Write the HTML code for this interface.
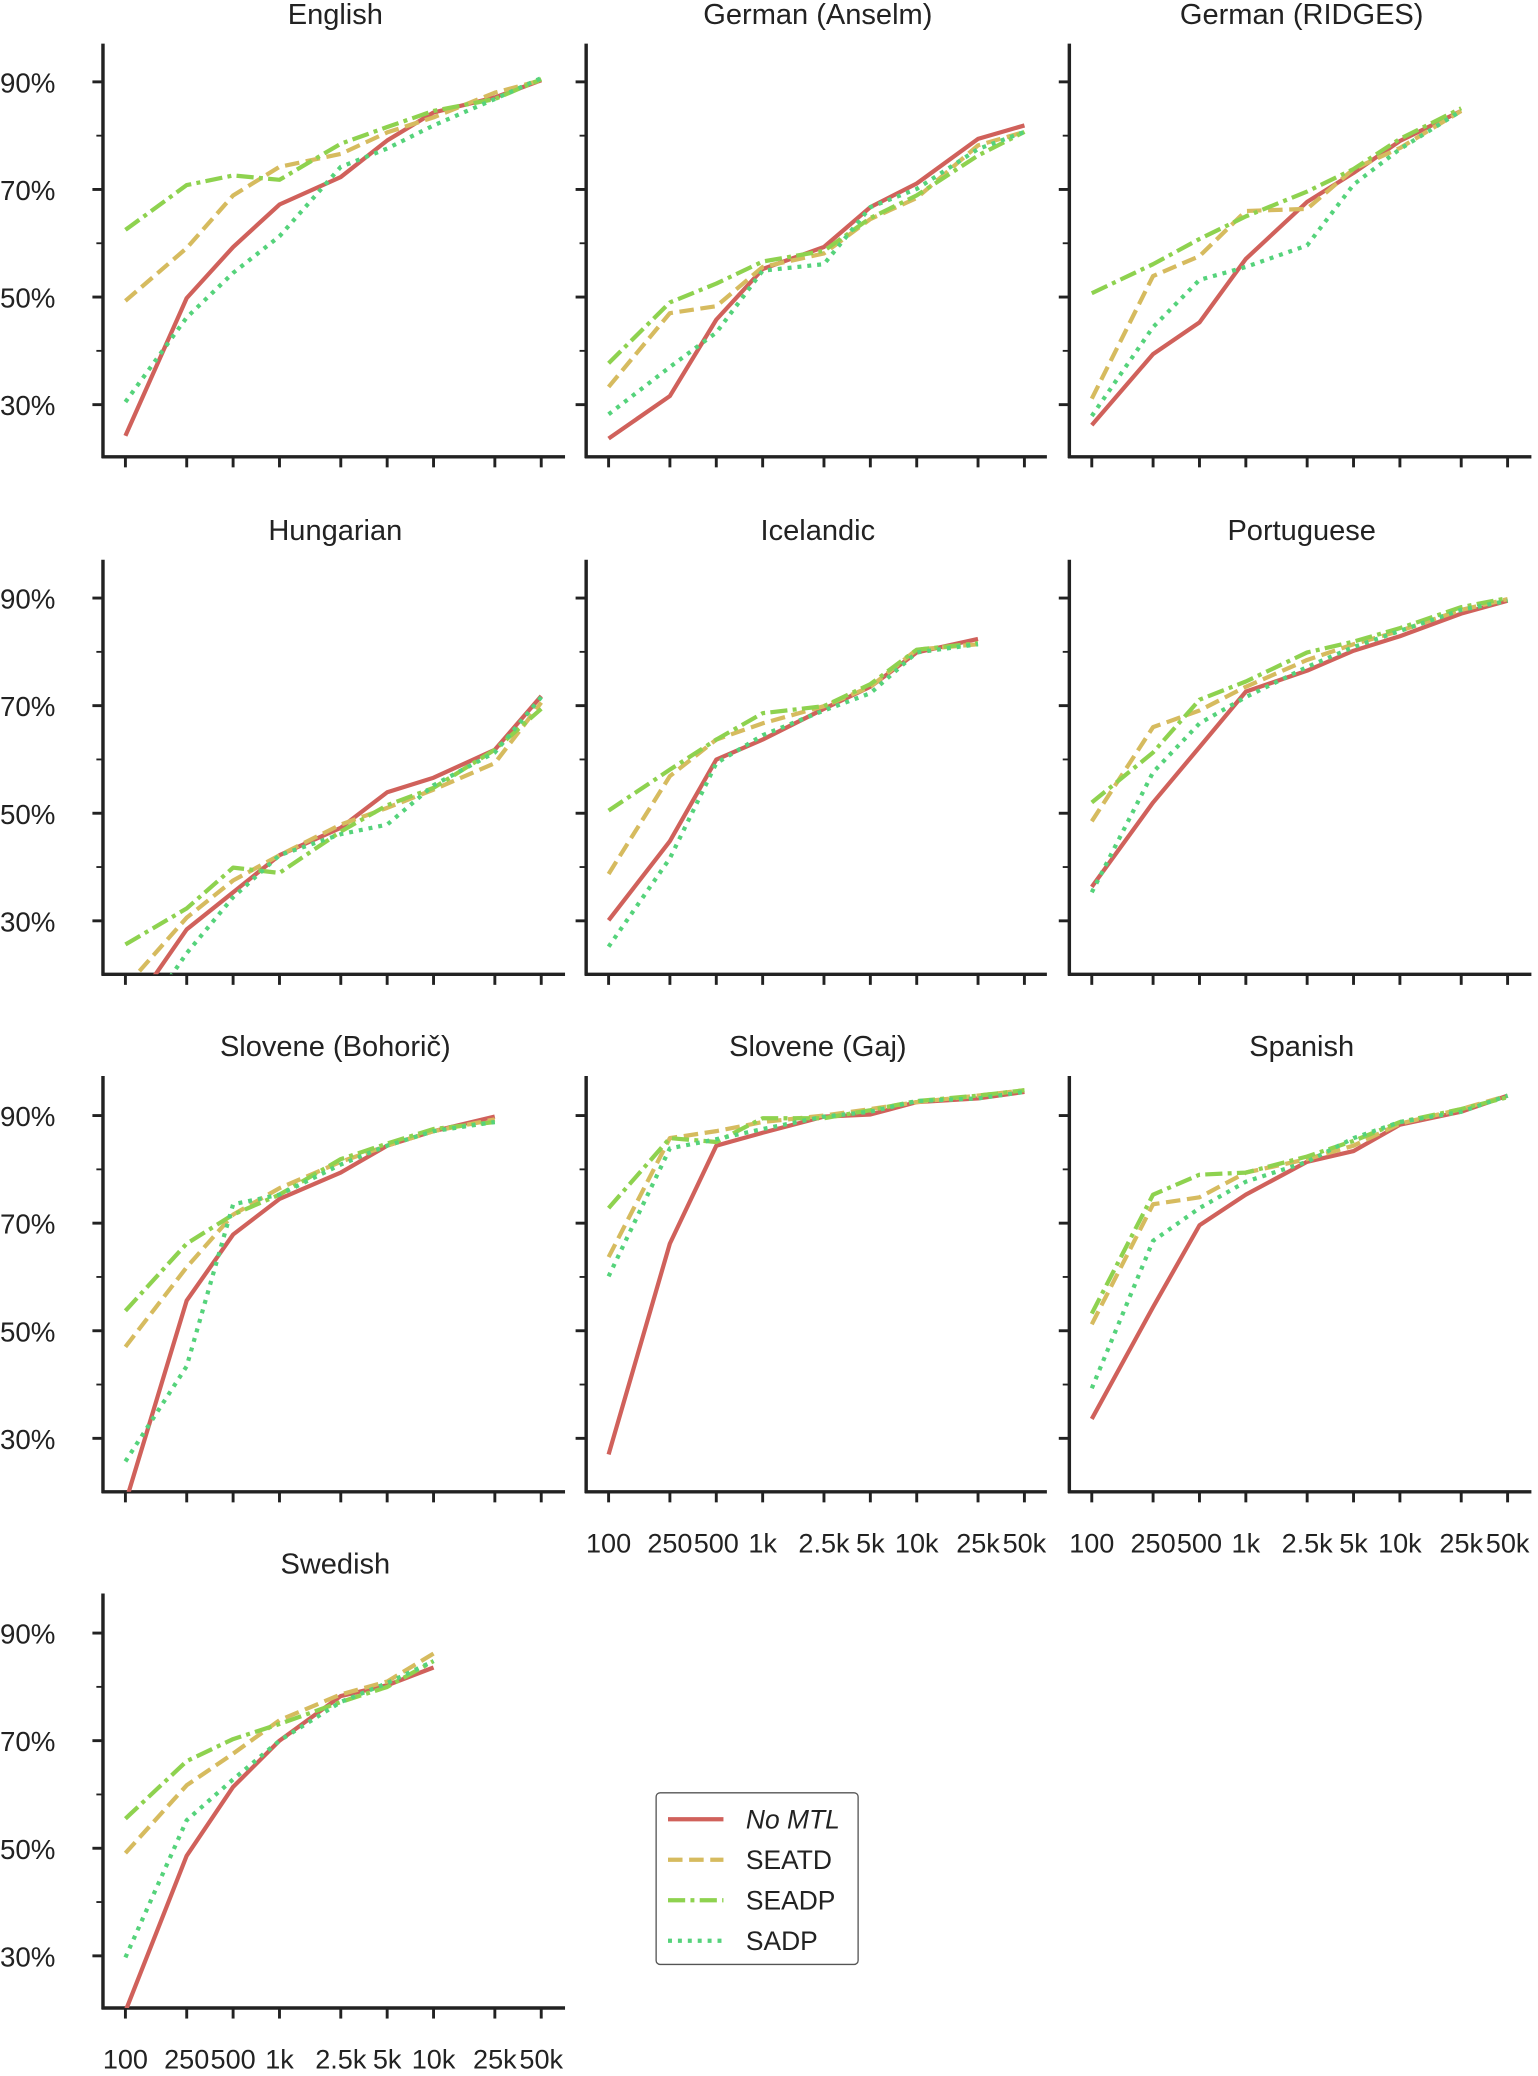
<!DOCTYPE html>
<html><head><meta charset="utf-8"><style>
html,body{margin:0;padding:0;background:#fff;}
svg{display:block;font-family:"Liberation Sans",sans-serif;}
</style></head><body>
<svg id="chart" width="1538" height="2076" viewBox="0 0 1165 1572.5" xmlns="http://www.w3.org/2000/svg"></svg>
<script>
const xCats = [100,250,500,1000,2500,5000,10000,25000,50000];
const xLabels = ["100","250","500","1k","2.5k","5k","10k","25k","50k"];
const yTicks = [30,50,70,90];
const yMinor = [40,60,80];
const seriesNames = ["No MTL","SEATD","SEADP","SADP"];
const panelTitles = ["English","German (Anselm)","German (RIDGES)","Hungarian","Icelandic","Portuguese","Slovene (Bohorič)","Slovene (Gaj)","Spanish","Swedish"];
const noMTL = [
 [24.2,49.8,59.3,67.2,72.3,79.1,84.3,87.1,90.3],
 [23.7,31.6,45.8,55.2,59.3,66.7,71.1,79.4,81.9],
 [26.2,39.4,45.3,57.1,67.7,73.1,79,84.6],
 [12,28.4,35.3,42.2,47.3,53.9,56.6,61.8,71.8],
 [30.1,44.8,60,63.7,69.4,73.5,79.9,82.4],
 [36.3,52,62.3,72.6,76.5,80.2,82.9,87.1,89.5],
 [18,55.6,67.9,74.5,79.4,84.4,87.1,89.8],
 [27,66.2,84.4,86.8,89.8,90.2,92.5,93.2,94.4],
 [33.6,54.4,69.6,75.3,81.4,83.4,88.3,90.7,93.7],
 [19.7,48.6,61.4,70,78.3,80.3,83.6]
];
const seatd = [
 [49.3,59.1,68.9,74.2,76.6,80.6,83.4,88,90.3],
 [33.3,47,48.3,55.6,58.1,64.5,68.4,78.2,80.7],
 [31.1,53.9,57.6,66,66.4,73.8,77.7,84.6],
 [17.7,30.6,37.5,42.2,47.9,51,54.4,59.3,70.6],
 [38.7,56.9,63.7,66.7,69.9,73.5,80.4,81.4],
 [48.5,66,69.1,73.5,78.5,81.4,83.9,87.8,89.8],
 [47,61.8,71.6,76.5,81.4,84.4,87.1,89.3],
 [63.7,85.8,87.1,88.8,90,91.2,92.5,93.7,94.7],
 [51.2,73.5,74.8,79.4,81.9,84.4,88.5,91.2,93.7],
 [49.1,61.7,67.6,73.8,78.6,81,86.2]
];
const seadp = [
 [62.5,70.8,72.6,71.8,78.5,81.6,84.6,86.8,90.5],
 [37.7,49,52.5,56.6,58.6,64.7,68.9,76.3,80.7],
 [50.7,56.1,60.8,65,69.6,73.8,79.4,85.1],
 [25.6,32.3,39.9,38.9,46.6,51.5,54.7,61.8,69.4],
 [50.5,58.1,63.7,68.6,69.9,74,80.4,81.6],
 [52,61.3,71.1,74.5,79.9,81.9,84.4,88.3,90],
 [53.7,66.2,71.6,75.3,81.9,84.8,87.5,88.8],
 [72.8,85.8,85.1,89.5,89.5,91,92.7,93.7,94.7],
 [53.2,75.3,79,79.4,82.4,85.3,88.8,91.2,93.4],
 [55.5,66.2,70.3,73.1,77.2,80,84.8]
];
const sadp = [
 [30.5,46.2,54.5,61.3,74.2,77.6,81.9,86.8,90.7],
 [28.2,37,43.4,54.9,56.1,66.7,70.1,77.5,80.7],
 [27.9,44.4,53.2,55.6,59.6,70.9,77.5,84.6],
 [7.4,24,34.4,42.2,46.1,47.9,55.2,61.3,71.6],
 [25.2,41.6,59.3,64.5,69.1,72.3,79.9,81.4],
 [35.3,57.6,66.7,71.6,77.2,80.9,83.9,87.8,89.5],
 [25.7,43.4,73.5,75.3,80.9,84.4,87.1,88.8],
 [60.1,83.9,85.6,87.5,89.8,90.7,92.7,93.2,94.4],
 [39.3,66.7,72.8,77.7,81.4,85.8,88.8,90.7,93.7],
 [29.7,55.2,62.8,70,77.2,80.7,84.8]
];
const allSeries = [noMTL, seatd, seadp, sadp];
const colors = ["#d0615b","#d6bb5f","#8ed24f","#55d37b"];
const dashes = [null,"11 5","13 4 3 4","3 4.5"];
const showXLabels = [false,false,false,false,false,false,false,true,true,true];

const NS = "http://www.w3.org/2000/svg";
const svg = document.getElementById("chart");
const colAxis = [78,444,810];
const colRight = [428,793,1160];
const rowTop = [33,424,815,1207];
const rowBottom = [346,738,1130,1521];
const rowY90 = [62,453,845,1237];
const PX_PER_PCT = 4.075;
const PX_PER_DEC = 116.7;
function mk(tag, attrs, parent){const e=document.createElementNS(NS,tag);for(const k in attrs)e.setAttribute(k,attrs[k]);(parent||svg).appendChild(e);return e;}
function xScale(c, v){return colAxis[c]+17+(Math.log10(v)-2)*PX_PER_DEC;}
function yScale(r, v){return rowY90[r]+(90-v)*PX_PER_PCT;}

const defs = mk("defs",{});
panelTitles.forEach((title,i)=>{
  const r=Math.floor(i/3), c=i%3;
  const g = mk("g",{});
  
  
  const cp = mk("clipPath",{id:"clip"+i},defs);
  mk("rect",{x:colAxis[c],y:rowTop[r]-5,width:colRight[c]-colAxis[c],height:rowBottom[r]-rowTop[r]+5},cp);
  const t = mk("text",{x:(colAxis[c]+colRight[c])/2+1,y:rowTop[r]-15,"text-anchor":"middle","font-size":22,fill:"#222"},g);
  t.textContent=title;
  
  
  const ya = mk("line",{x1:colAxis[c],y1:rowTop[r],x2:colAxis[c],y2:rowBottom[r]+1,stroke:"#222","stroke-width":2.6},g);
  
  
  const xa = mk("line",{x1:colAxis[c]-1,y1:rowBottom[r],x2:colRight[c],y2:rowBottom[r],stroke:"#222","stroke-width":2.6},g);
  
  
  yTicks.forEach(v=>{
    const y=yScale(r,v);
    mk("line",{x1:colAxis[c]-8,y1:y,x2:colAxis[c],y2:y,stroke:"#222","stroke-width":2.2},g);
    if(c===0){
      const l=mk("text",{x:colAxis[c]-36,y:y+8,"text-anchor":"end","font-size":21,fill:"#222"},g);
      l.textContent=v+"%";
      
      
    }
  });
  yMinor.forEach(v=>{const y=yScale(r,v);mk("line",{x1:colAxis[c]-5,y1:y,x2:colAxis[c],y2:y,stroke:"#222","stroke-width":1.4},g);});
  xCats.forEach((v,k)=>{
    const x=xScale(c,v);
    mk("line",{x1:x,y1:rowBottom[r],x2:x,y2:rowBottom[r]+8,stroke:"#222","stroke-width":2.2},g);
    if(showXLabels[i]){
      const l=mk("text",{x:x,y:rowBottom[r]+46,"text-anchor":"middle","font-size":20.5,fill:"#222"},g);
      l.textContent=xLabels[k];
      
      
    }
  });
  const lg = mk("g",{"clip-path":"url(#clip"+i+")"},g);
  allSeries.forEach((ser,s)=>{
    const vals=ser[i];
    const pts=vals.map((v,k)=>xScale(c,xCats[k]).toFixed(1)+","+yScale(r,v).toFixed(1)).join(" ");
    const a={points:pts,fill:"none",stroke:colors[s],"stroke-width":3.2,"stroke-linejoin":"round"};
    if(dashes[s])a["stroke-dasharray"]=dashes[s];
    const pl=mk("polyline",a,lg);
    
    
  });
});
const leg = mk("g",{});


mk("rect",{x:497,y:1358,width:153,height:130,rx:3,fill:"#fff",stroke:"#555","stroke-width":1},leg);
seriesNames.forEach((n,s)=>{
  const y=1378+s*30.7;
  const a={x1:506,y1:y,x2:548,y2:y,stroke:colors[s],"stroke-width":3.2};
  if(dashes[s])a["stroke-dasharray"]=dashes[s];
  mk("line",a,leg);
  const t=mk("text",{x:565,y:y+7,"font-size":20,fill:"#222"},leg);
  if(s===0)t.setAttribute("font-style","italic");
  t.textContent=n;
  
  
});
</script>
</body></html>
